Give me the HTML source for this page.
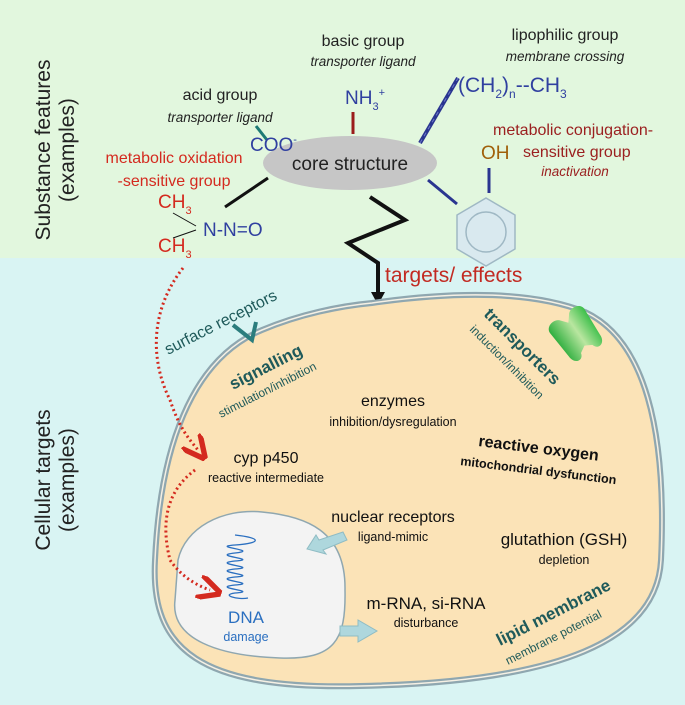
<!DOCTYPE html>
<html><head><meta charset="utf-8"><style>
html,body{margin:0;padding:0;background:#fff}
svg{display:block}
text{font-family:"Liberation Sans",sans-serif}
</style></head><body>
<svg width="685" height="705" viewBox="0 0 685 705" xmlns="http://www.w3.org/2000/svg">
<defs>
<linearGradient id="g" x1="0" y1="0" x2="1" y2="0"><stop offset="0" stop-color="#2fae3f"/><stop offset="0.55" stop-color="#b9e6a0"/><stop offset="1" stop-color="#3cbf4a"/></linearGradient>
<marker id="ar" markerWidth="8" markerHeight="8" refX="4" refY="4" orient="auto"><path d="M0,0 L8,4 L0,8" fill="none" stroke="#d42a1f" stroke-width="1.8"/></marker>
</defs>
<rect x="0" y="0" width="685" height="258" fill="#e2f7de"/>
<rect x="0" y="258" width="685" height="447" fill="#d9f4f3"/>
<text transform="translate(50,150) rotate(-90)" text-anchor="middle" font-size="21" fill="#222">Substance features</text>
<text transform="translate(74,150) rotate(-90)" text-anchor="middle" font-size="21" fill="#222">(examples)</text>
<text transform="translate(50,480) rotate(-90)" text-anchor="middle" font-size="21" fill="#222">Cellular targets</text>
<text transform="translate(74,480) rotate(-90)" text-anchor="middle" font-size="21" fill="#222">(examples)</text>

<!-- bonds -->
<line x1="267" y1="140" x2="256" y2="126" stroke="#1d7a75" stroke-width="3"/>
<line x1="353" y1="134" x2="353" y2="112" stroke="#9b1c1c" stroke-width="3"/>
<line x1="420" y1="143" x2="458" y2="78" stroke="#2a3590" stroke-width="4"/>
<line x1="420" y1="143" x2="458" y2="78" stroke="#6b78c8" stroke-width="1" stroke-dasharray="4 4"/>
<line x1="268" y1="178" x2="225" y2="207" stroke="#111" stroke-width="3"/>
<line x1="428" y1="180" x2="457" y2="204" stroke="#2a3590" stroke-width="3"/>
<line x1="489" y1="168" x2="489" y2="193" stroke="#2a3590" stroke-width="3"/>
<polyline points="370,197 405,220 348,243 378,263 378,295" fill="none" stroke="#111" stroke-width="4"/>
<path d="M371 292 L378 305 L385 292 Z" fill="#111"/>
<ellipse cx="350" cy="163" rx="87" ry="27" fill="#c6c6c6"/>
<text x="350" y="170" text-anchor="middle" font-size="19" fill="#222">core structure</text>

<!-- benzene -->
<polygon points="486,198 515,215 515,249 486,266 457,249 457,215" fill="#d9e9ef" stroke="#9fb8c4" stroke-width="1.5"/>
<circle cx="486" cy="232" r="20" fill="none" stroke="#9fb8c4" stroke-width="1.5"/>

<text x="220" y="100" text-anchor="middle" font-size="16" fill="#222">acid group</text>
<text x="220" y="122" text-anchor="middle" font-size="13.5" font-style="italic" fill="#222">transporter ligand</text>
<text x="250" y="151" font-size="19" fill="#3040a0">COO<tspan font-size="11" dy="-8">-</tspan></text>
<text x="363" y="46" text-anchor="middle" font-size="16" fill="#222">basic group</text>
<text x="363" y="66" text-anchor="middle" font-size="13.5" font-style="italic" fill="#222">transporter ligand</text>
<text x="345" y="104" font-size="19" fill="#3040a0">NH<tspan font-size="11" dy="6">3</tspan><tspan font-size="11" dy="-14">+</tspan></text>
<text x="565" y="40" text-anchor="middle" font-size="16" fill="#222">lipophilic group</text>
<text x="565" y="61" text-anchor="middle" font-size="13.5" font-style="italic" fill="#222">membrane crossing</text>
<text x="458" y="92" font-size="21" fill="#3040a0">(CH<tspan font-size="12" dy="6">2</tspan><tspan dy="-6">)</tspan><tspan font-size="12" dy="6">n</tspan><tspan dy="-6">--CH</tspan><tspan font-size="12" dy="6">3</tspan></text>
<text x="493" y="135" font-size="16" fill="#9b2020">metabolic conjugation-</text>
<text x="481" y="159" font-size="19" fill="#a0600a">OH</text>
<text x="523" y="157" font-size="16" fill="#9b2020">sensitive group</text>
<text x="575" y="176" text-anchor="middle" font-size="13.5" font-style="italic" fill="#9b2020">inactivation</text>
<text x="174" y="163" text-anchor="middle" font-size="16" fill="#d42a1f">metabolic oxidation</text>
<text x="174" y="186" text-anchor="middle" font-size="16" fill="#d42a1f">-sensitive group</text>
<text x="158" y="208" font-size="19" fill="#d42a1f">CH<tspan font-size="11" dy="6">3</tspan></text>
<text x="158" y="252" font-size="19" fill="#d42a1f">CH<tspan font-size="11" dy="6">3</tspan></text>
<line x1="173" y1="213" x2="196" y2="226" stroke="#111" stroke-width="1"/>
<line x1="173" y1="238" x2="196" y2="230" stroke="#111" stroke-width="1"/>
<text x="203" y="236" font-size="19" fill="#3040a0">N-N=O</text>

<text x="385" y="282" font-size="21" fill="#c22a22">targets/ effects</text>

<!-- cell -->
<path d="M372 303 C450 292,530 290,585 312 C645 340,667 430,661 560 C657 640,560 682,360 686 C200 690,150 650,155 560 C160 450,190 360,262 330 C300 314,340 306,372 303 Z" fill="#fbe3b7" stroke="#8fa7b0" stroke-width="6"/>
<path d="M372 303 C450 292,530 290,585 312 C645 340,667 430,661 560 C657 640,560 682,360 686 C200 690,150 650,155 560 C160 450,190 360,262 330 C300 314,340 306,372 303 Z" fill="none" stroke="#f5f0e4" stroke-width="1.5"/>
<path d="M178 560 C185 528,222 508,262 512 C305 516,346 530,345 590 C346 640,335 660,280 658 C220 656,170 640,175 600 Z" fill="#f3f3f3" stroke="#8fa7b0" stroke-width="1.5"/>

<!-- transporter -->
<g transform="rotate(-35 577 335)">
<path d="M556 318 C556 310,568 308,572 314 L577 320 L582 314 C586 308,598 310,598 318 L596 348 C596 358,586 360,584 352 L577 348 L570 352 C568 360,558 358,558 348 Z" fill="url(#g)"/>
</g>
<!-- surface receptor -->
<path d="M233 325 L252 340 L256 322" fill="none" stroke="#2b7d7d" stroke-width="4"/>
<text transform="translate(168,355) rotate(-27)" font-size="16" fill="#1f5a5a">surface receptors</text>
<text transform="translate(233,390) rotate(-27)" font-size="17" font-weight="bold" fill="#1f5a5a">signalling</text>
<text transform="translate(221,418) rotate(-27)" font-size="12" fill="#1f5a5a">stimulation/inhibition</text>
<text transform="translate(483,315) rotate(45)" font-size="17" font-weight="bold" fill="#1f5a5a">transporters</text>
<text transform="translate(469,330) rotate(45)" font-size="12" fill="#1f5a5a">induction/inhibition</text>

<text x="393" y="406" text-anchor="middle" font-size="16" fill="#111">enzymes</text>
<text x="393" y="426" text-anchor="middle" font-size="12.5" fill="#111">inhibition/dysregulation</text>
<text x="266" y="463" text-anchor="middle" font-size="16" fill="#111">cyp p450</text>
<text x="266" y="482" text-anchor="middle" font-size="12.5" fill="#111">reactive intermediate</text>
<text transform="translate(478,446) rotate(7)" font-size="16" fill="#111" font-weight="bold">reactive oxygen</text>
<text transform="translate(460,465) rotate(7)" font-size="12.5" fill="#111" font-weight="bold">mitochondrial dysfunction</text>
<text x="393" y="522" text-anchor="middle" font-size="16" fill="#111">nuclear receptors</text>
<text x="393" y="541" text-anchor="middle" font-size="12.5" fill="#111">ligand-mimic</text>
<text x="564" y="545" text-anchor="middle" font-size="17" fill="#111">glutathion (GSH)</text>
<text x="564" y="564" text-anchor="middle" font-size="12.5" fill="#111">depletion</text>
<text x="426" y="609" text-anchor="middle" font-size="17" fill="#111">m-RNA, si-RNA</text>
<text x="426" y="627" text-anchor="middle" font-size="12.5" fill="#111">disturbance</text>
<text transform="translate(500,646) rotate(-27)" font-size="17" font-weight="bold" fill="#1f5a5a">lipid membrane</text>
<text transform="translate(508,665) rotate(-27)" font-size="12" fill="#1f5a5a">membrane potential</text>
<text x="246" y="623" text-anchor="middle" font-size="17" fill="#2a6fc0">DNA</text>
<text x="246" y="641" text-anchor="middle" font-size="12.5" fill="#2a6fc0">damage</text>

<!-- DNA helix -->
<path d="M235 535 C262 538,262 543,235 545 C208 547,262 550,235 553 C208 556,262 559,235 561 C208 564,262 567,235 569 C208 572,262 575,235 577 C208 580,262 583,235 585 C208 588,262 591,235 593 C220 595,238 600,248 598" fill="none" stroke="#2a6fc0" stroke-width="1.3"/>

<!-- block arrows -->
<path d="M343 532 L347 540 L323 550 L326 554 L307 549 L316 535 L319 540 Z" fill="#aed7dd" stroke="#8fbcc4" stroke-width="1"/>
<path d="M340 626 L358 626 L358 620 L377 631 L358 642 L358 636 L340 636 Z" fill="#aed7dd" stroke="#8fbcc4" stroke-width="1"/>

<!-- dotted red -->
<path d="M183 268 C150 310,150 360,170 400 C180 430,190 440,198 450" fill="none" stroke="#d42a1f" stroke-width="3" stroke-dasharray="2 3" marker-end="url(#ar)"/>
<path d="M195 470 C168 490,160 520,170 560 C180 575,195 585,210 590" fill="none" stroke="#d42a1f" stroke-width="3" stroke-dasharray="2 3" marker-end="url(#ar)"/>
</svg>
</body></html>
